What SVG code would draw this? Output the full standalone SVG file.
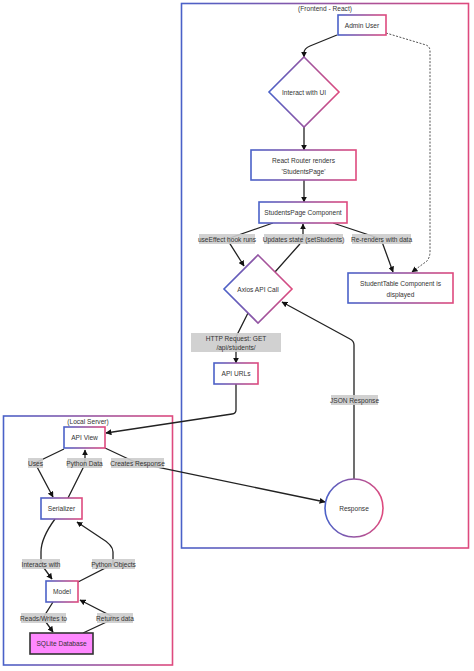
<svg xmlns="http://www.w3.org/2000/svg" width="474" height="671" viewBox="0 0 474 671">
<defs>
<linearGradient id="g" x1="0" y1="0" x2="1" y2="0">
<stop offset="0" stop-color="#4a61c8"/>
<stop offset="1" stop-color="#de4a7e"/>
</linearGradient>
<marker id="arr" viewBox="0 0 10 10" refX="9" refY="5" markerWidth="6" markerHeight="6" markerUnits="userSpaceOnUse" orient="auto">
<path d="M0,0 L10,5 L0,10 z" fill="#111"/>
</marker>
<style>
text{font-family:"Liberation Sans",Arial,sans-serif;font-size:6.6px;fill:#333;text-anchor:middle;dominant-baseline:central}
.sg{fill:#fff;stroke:url(#g);stroke-width:1.6}
.n{fill:#fff;stroke:url(#g);stroke-width:1.6}
.e{fill:none;stroke:#222;stroke-width:1.3;marker-end:url(#arr)}
.d{stroke-dasharray:2,1.5;stroke:#555;stroke-width:1}
.lb{fill:#cccccc;opacity:0.9}
</style>
</defs>
<rect width="474" height="671" fill="#fff"/>
<g id="frontend">
<rect class="sg" x="181.5" y="3.5" width="287" height="544.5"/>
<text x="325" y="8.5">(Frontend - React)</text>
</g>
<g id="localserver">
<rect class="sg" x="3.5" y="416" width="169" height="249"/>
<text x="88" y="421.5">(Local Server)</text>
</g>
<g id="connectors">
<path class="e" d="M337,35 L310,46 Q304,48.5 304,53 L304,57"/>
<path class="e d" d="M386,33 L426,45 Q430,46.5 430,51 L430,252 Q430,257 427,261 L412,272"/>
<path class="e" d="M304,127 L304,150"/>
<path class="e" d="M304,180 L304,202"/>
<path class="e" d="M273,223 L227,239 L244,266"/>
<path class="e" d="M275,272 L299,245 Q303,240 303,235 L303,224"/>
<path class="e" d="M333,223 L381,239 L393,272"/>
<path class="e" d="M248,313 L236,337 L236,363"/>
<path class="e" d="M236,384 L236,410 Q236,413.5 232,414 L106,433"/>
<path class="e" d="M64,449 L35,463 L53,497"/>
<path class="e" d="M68,498 L84,466 Q85,463 85,460 L85,450"/>
<path class="e" d="M105,448 L137,463 L325,502"/>
<path class="e" d="M354,479 L354,345 Q354,341 350,339 L282,302"/>
<path class="e" d="M55,519 Q41,538 41,552 L41,564 L52,579"/>
<path class="e" d="M78,582 L113,564 L113,552 Q113,545 101,538 L77,522"/>
<path class="e" d="M53,602 L43,618 L53,632"/>
<path class="e" d="M83,633 L115,618 L80,600"/>
</g>
<g id="labels">
<rect class="lb" x="199" y="234" width="56" height="10"/><text x="227" y="239">useEffect hook runs</text>
<rect class="lb" x="264" y="234" width="79" height="10"/><text x="303.5" y="239">Updates state (setStudents)</text>
<rect class="lb" x="352" y="234" width="59" height="10"/><text x="381.5" y="239">Re-renders with data</text>
<rect class="lb" x="191" y="333" width="90" height="19"/><text x="236" y="338">HTTP Request: GET</text><text x="236" y="347">/api/students/</text>
<rect class="lb" x="331" y="395" width="47" height="10"/><text x="354.5" y="400">JSON Response</text>
<rect class="lb" x="28" y="458" width="15" height="10"/><text x="35.5" y="463">Uses</text>
<rect class="lb" x="67" y="458" width="35" height="10"/><text x="84.5" y="463">Python Data</text>
<rect class="lb" x="111" y="458" width="53" height="10"/><text x="137.5" y="463">Creates Response</text>
<rect class="lb" x="22" y="559" width="38" height="10"/><text x="41" y="564">Interacts with</text>
<rect class="lb" x="92" y="559" width="43" height="10"/><text x="113.5" y="564">Python Objects</text>
<rect class="lb" x="21" y="613" width="45" height="10"/><text x="43.5" y="618">Reads/Writes to</text>
<rect class="lb" x="97" y="613" width="36" height="10"/><text x="115" y="618">Returns data</text>
</g>
<g id="adminuser"><rect class="n" x="338" y="15" width="48" height="20"/><text x="362" y="25.5">Admin User</text></g>
<g id="interact"><polygon class="n" points="304,57 339,92 304,127 269,92"/><text x="304" y="92.5">Interact with UI</text></g>
<g id="router"><rect class="n" x="251" y="150" width="105" height="30"/><text x="303.5" y="160.5">React Router renders</text><text x="303.5" y="171.5">'StudentsPage'</text></g>
<g id="studentspage"><rect class="n" x="259" y="202" width="88" height="21"/><text x="303" y="212.5">StudentsPage Component</text></g>
<g id="axios"><polygon class="n" points="258,255 292,289 258,323 224,289"/><text x="258" y="289.5">Axios API Call</text></g>
<g id="studenttable"><rect class="n" x="348" y="273" width="105" height="30"/><text x="400.5" y="283">StudentTable Component is</text><text x="400.5" y="294.5">displayed</text></g>
<g id="apiurls"><rect class="n" x="214" y="363" width="44" height="21"/><text x="236" y="373.5">API URLs</text></g>
<g id="response"><circle class="n" cx="354" cy="508" r="29"/><text x="354" y="508.5">Response</text></g>
<g id="apiview"><rect class="n" x="64" y="427" width="41" height="21"/><text x="84.5" y="437.5">API View</text></g>
<g id="serializer"><rect class="n" x="41" y="498" width="41" height="21"/><text x="61.5" y="508.5">Serializer</text></g>
<g id="model"><rect class="n" x="46" y="581" width="32" height="21"/><text x="62" y="591.5">Model</text></g>
<g id="sqlite"><rect x="30" y="633" width="63" height="21" fill="#ff88ff" stroke="#333" stroke-width="1.6"/><text x="61.5" y="643.5">SQLite Database</text></g>
</svg>
